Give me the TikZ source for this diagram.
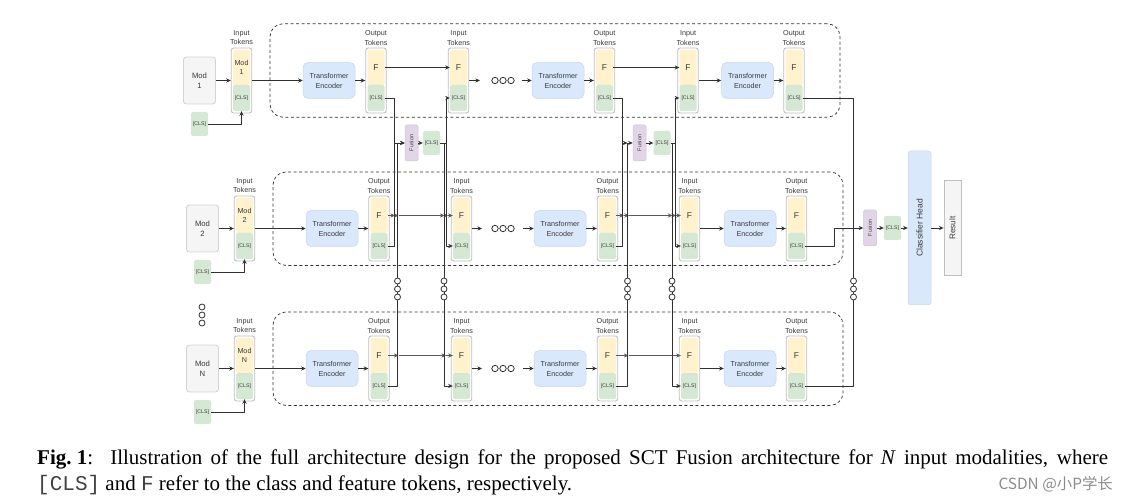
\documentclass[tikz,border=0pt]{standalone}
\usepackage{fontspec}
\usetikzlibrary{arrows.meta}
\setmainfont{Liberation Serif}
\setsansfont{Liberation Sans}
\setmonofont{Liberation Mono}
\newfontfamily\cjk{Noto Sans CJK SC}
\definecolor{txtgrey}{HTML}{3A3A3A}
\definecolor{wiregrey}{HTML}{303030}
\definecolor{buswire}{HTML}{5A5A5A}
\definecolor{fcol}{HTML}{FFF2CC}
\definecolor{clscol}{HTML}{D5E8D4}
\definecolor{enccol}{HTML}{DAE8FC}
\definecolor{fuscol}{HTML}{E1D5E7}
\tikzset{
  base/.style={inner sep=0pt, font=\sffamily, text=txtgrey, align=center},
  modbox/.style={base, draw=black!17, fill=black!4, line width=.9pt, rounded corners=3pt, minimum width=32pt, minimum height=47pt, font=\sffamily\fontsize{7.7}{10}\selectfont},
  stackbox/.style={draw=black!25, fill=white, line width=.9pt, rounded corners=2.5pt, inner sep=0pt, minimum width=20.5pt, minimum height=65pt},
  ftoken/.style={base, fill=fcol, rounded corners=2pt, minimum width=17pt, minimum height=35pt},
  clstoken/.style={base, fill=clscol, rounded corners=2pt, minimum width=17pt, minimum height=26pt, font=\sffamily\fontsize{5.2}{6}\selectfont},
  seedbox/.style={clstoken, minimum height=24pt},
  encbox/.style={base, draw=enccol!92!black, fill=enccol, line width=.5pt, rounded corners=5pt, minimum width=52pt, minimum height=36pt, font=\sffamily\fontsize{7.2}{10}\selectfont},
  fusbox/.style={base, draw=fuscol!92!black, fill=fuscol, line width=.5pt, rounded corners=1.5pt, minimum width=13pt, minimum height=36pt, font=\sffamily\fontsize{5.4}{6}\selectfont},
  toklabel/.style={base, font=\sffamily\fontsize{7.2}{10}\selectfont},
  rowbox/.style={draw=black!80, dashed, dash pattern=on 3pt off 2.5pt, line width=.7pt, rounded corners=13pt, inner sep=0pt, minimum width=570pt, minimum height=93.5pt},
  ringdot/.style={circle, draw=wiregrey, fill=white, line width=.8pt, inner sep=0pt, minimum size=6pt},
  wire/.style={draw=wiregrey, line width=.95pt},
  fwire/.style={draw=buswire, line width=1.3pt},
}
\begin{document}
\begin{tikzpicture}[x=1pt, y=-1pt, line join=round, >={Stealth[length=4.6pt,width=4.2pt]}]
\useasboundingbox (0,0) rectangle (1129,502);

% dashed rows
\node[rowbox] (rowa) at (555,70.5) {};
\node[rowbox] (rowb) at (558,218.7) {};
\node[rowbox] (rown) at (558,358.7) {};

% token stacks
\foreach \name/\kind/\xc/\dy in {oa1/Output/376/0,ib1/Input/458.5/0,ob1/Output/604.5/0,ic1/Input/688/0,oc1/Output/794/0,
  oa2/Output/379/148,ib2/Input/461.5/148,ob2/Output/607.5/148,ic2/Input/689.5/148,oc2/Output/796.5/148,
  oa3/Output/379/288,ib3/Input/461.5/288,ob3/Output/607.5/288,ic3/Input/689.5/288,oc3/Output/796.5/288}
{
\node[stackbox] (\name) at (\xc,80.5+\dy) {};
\node[ftoken, font=\sffamily\fontsize{8.5}{10}\selectfont] (f\name) at (\xc,67.5+\dy) {F};
\node[clstoken] (c\name) at (\xc,98+\dy) {[CLS]};
\node[toklabel] (l\name) at (\xc,38.3+\dy) {\kind\\Tokens};
}

% first stack of each row, with its modality and [CLS] seed
\foreach \r/\lab/\xc/\dy/\dx in {1/1/241.5/0/0,2/2/244.5/148/3,3/N/244.5/288/3}
{
\node[modbox] (mod\r) at (199.5+\dx,80.5+\dy) {Mod\\\lab};
\node[seedbox] (seed\r) at (199.5+\dx,124+\dy) {[CLS]};
\node[stackbox] (ia\r) at (\xc,80.5+\dy) {};
\node[ftoken, font=\sffamily\fontsize{7.2}{9.5}\selectfont] (fia\r) at (\xc,67.5+\dy) {Mod\\\lab};
\node[clstoken] (cia\r) at (\xc,98+\dy) {[CLS]};
\node[toklabel, font=\sffamily\fontsize{7.2}{9}\selectfont] (lia\r) at (\xc,37.5+\dy) {Input\\Tokens};
\draw[wire,->] (seed\r.east) -| (cia\r.south);
}

% encoders
\foreach \name/\xc/\yc in {ea1/329/80.5,eb1/558/80.5,ec1/747.5/80.5,ea2/332/228.5,eb2/560/228.5,ec2/750/228.5,ea3/332/368.5,eb3/560/368.5,ec3/750/368.5}
\node[encbox] (\name) at (\xc,\yc) {Transformer\\Encoder};

% fusion side
\node[fusbox] (fusa) at (411.5,143) {\rotatebox{90}{Fusion}};
\node[seedbox] (cfa) at (431.5,143) {[CLS]};
\node[fusbox] (fusb) at (639.5,143) {\rotatebox{90}{Fusion}};
\node[seedbox] (cfb) at (662,143) {[CLS]};
\node[fusbox] (fusc) at (870,228) {\rotatebox{90}{Fusion}};
\node[seedbox] (cfc) at (892.5,228) {[CLS]};
\node[base, draw=enccol!92!black, fill=enccol, line width=.5pt, rounded corners=3pt, minimum width=23pt, minimum height=154pt, font=\sffamily\fontsize{8.5}{10}\selectfont] (head) at (919.5,228) {\rotatebox{90}{Classifier Head}};
\node[base, draw=black!25, fill=black!4, line width=.9pt, minimum width=17pt, minimum height=95pt, font=\sffamily\fontsize{8.2}{10}\selectfont] (res) at (952.5,228) {\rotatebox{90}{Result}};

% free ends of the wires
\foreach \name/\x/\y in {sa1/480/80.5,sb1/522/80.5,sa2/482/228.5,sb2/523/228.5,sa3/482/368.5,sb3/523/368.5,
  tapa/394.5/143,tapb/397.5/143,tapc/446.5/143,tapd/444/143,
  tapf/622.7/143,tapg/627.5/143,taph/675/143,tapi/672/143,
  tape/853.5/228,bendc/834/228,
  ja2/395/215.5,jb2/398.5/215.5,jc2/444.5/215.5,jd2/448/215.5,
  je2/624/215.5,jf2/629/215.5,jg2/672.5/215.5,jh2/676/215.5,
  ja3/398.5/355.5,jc3/446/355.5,je3/628.5/355.5}
\coordinate (\name) at (\x,\y);

% straight wires
\foreach \from/\to in {mod1.east/ia1.west,mod2.east/ia2.west,mod3.east/ia3.west,
  ia1.east/ea1.west,ia2.east/ea2.west,ia3.east/ea3.west,
  ea1.east/oa1.west,ea2.east/oa2.west,ea3.east/oa3.west,
  ib1.east/sa1,ib2.east/sa2,ib3.east/sa3,
  sb1/eb1.west,sb2/eb2.west,sb3/eb3.west,
  eb1.east/ob1.west,eb2.east/ob2.west,eb3.east/ob3.west,
  ic1.east/ec1.west,ic2.east/ec2.west,ic3.east/ec3.west,
  ec1.east/oc1.west,ec2.east/oc2.west,ec3.east/oc3.west,
  foa1.east/fib1.west,fob1.east/fic1.west,
  fusa.east/cfa.west,fusb.east/cfb.west,fusc.east/cfc.west,
  cfc.east/head.west,head.east/res.west}
\draw[wire,->] (\from)--(\to);

% feature wires across the buses
\foreach \from/\to in {foa2.east/ja2,ja2/jb2,jb2/jc2,jc2/jd2,jd2/fib2.west,
  fob2.east/je2,je2/jf2,jf2/jg2,jg2/jh2,jh2/fic2.west,
  foa3.east/ja3,ja3/jc3,jc3/fib3.west,fob3.east/je3,je3/fic3.west}
\draw[fwire,->] (\from)--(\to);

% [CLS] buses
\draw[wire] (coa1.east) -| (tapa);
\draw[wire] (coa2.east) -| (tapa);
\draw[wire,->] (tapa) -- (fusa.west);
\draw[wire,->] (coa3.east) -| (tapb) -- (fusa.west);
\draw[wire] (cfa.east) -- (tapc);
\foreach \to in {cib1,cib2}
\draw[wire,->] (tapc) |- (\to.west);
\draw[wire,->] (tapd) |- (cib3.west);

\draw[wire] (cob1.east) -| (tapf);
\draw[wire] (cob2.east) -| (tapf);
\draw[wire,->] (tapf) -- (tapg);
\draw[wire] (cob3.east) -| (tapg);
\draw[wire,->] (tapg) -- (fusb.west);
\draw[wire] (cfb.east) -- (taph);
\foreach \to in {cic1,cic2}
\draw[wire,->] (taph) |- (\to.west);
\draw[wire,->] (tapi) |- (cic3.west);

\draw[wire] (coc1.east) -| (tape);
\draw[wire] (coc3.east) -| (tape);
\draw[wire,->] (coc2.east) -| (bendc) -- (fusc.west);

% rings on the buses, between the rows and on the left
\foreach \bus/\x in {a/397.5,b/444,c/627.5,d/672,e/853.5}
\foreach \n/\y in {1/281,2/289,3/297}
\node[ringdot] (ring\bus\n) at (\x,\y) {};
\foreach \r/\y in {1/80.5,2/228.5,3/368.5}
\foreach \n/\x in {1/495,2/503,3/511}
\node[ringdot, minimum size=6.4pt] (dot\r\n) at (\x,\y) {};
\foreach \n/\y in {1/307,2/315,3/323}
\node[ringdot] (more\n) at (202,\y) {};

% caption and mark
\node[inner sep=0pt, anchor=north west, text width=1071pt, align=justify, font=\fontsize{21}{26}\selectfont] (caption) at (37,449.5) {\mbox{\textbf{Fig.~1}:}\hspace{9pt} Illustration of the full architecture design for the proposed SCT Fusion architecture for \textit{N} input modalities, where\linebreak \textcolor{black!75}{\texttt{[CLS]}} and \textcolor{black!75}{\texttt{F}} refer to the class and feature tokens, respectively.};
\node[inner sep=0pt, anchor=east, text=black!45, font=\cjk\fontsize{15.4}{18}\selectfont] (mark) at (1113,484) {CSDN @小P学长};
\end{tikzpicture}
\end{document}
